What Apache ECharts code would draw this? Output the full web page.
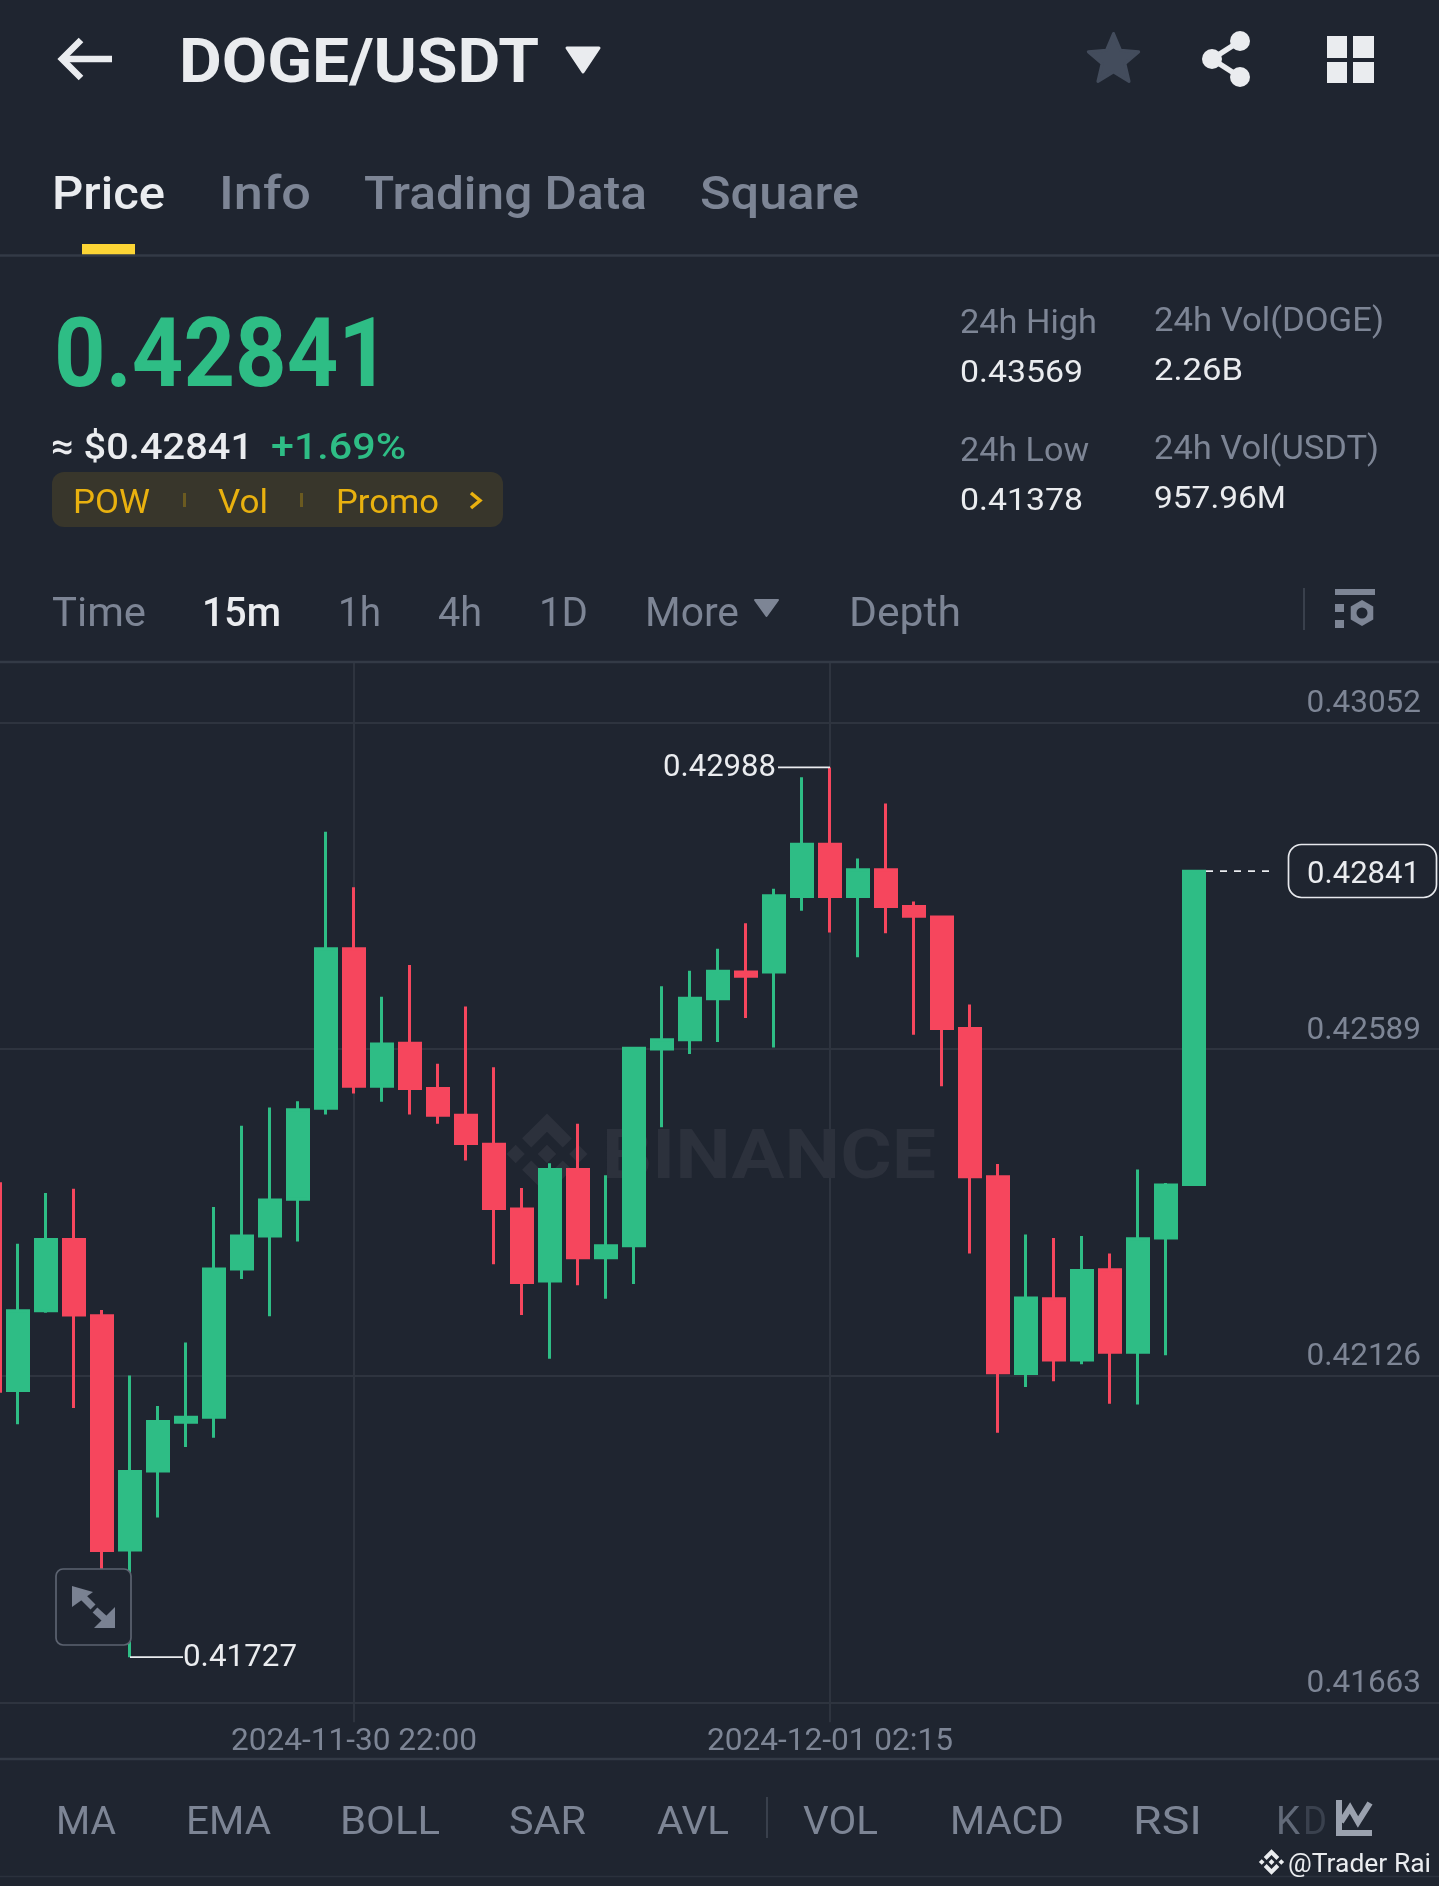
<!DOCTYPE html>
<html>
<head>
<meta charset="utf-8">
<title>DOGE/USDT</title>
<style>html,body{margin:0;padding:0;background:#1f2530}#c{width:1439px;height:1886px}</style>
<script src="https://cdn.jsdelivr.net/npm/echarts@6/dist/echarts.min.js"></script>
</head>
<body>
<div id="c"></div>
<script>
// ---- data ----
const categories = [
'2024-11-30 18:45','2024-11-30 19:00','2024-11-30 19:15','2024-11-30 19:30','2024-11-30 19:45',
'2024-11-30 20:00','2024-11-30 20:15','2024-11-30 20:30','2024-11-30 20:45',
'2024-11-30 21:00','2024-11-30 21:15','2024-11-30 21:30','2024-11-30 21:45',
'2024-11-30 22:00','2024-11-30 22:15','2024-11-30 22:30','2024-11-30 22:45',
'2024-11-30 23:00','2024-11-30 23:15','2024-11-30 23:30','2024-11-30 23:45',
'2024-12-01 00:00','2024-12-01 00:15','2024-12-01 00:30','2024-12-01 00:45',
'2024-12-01 01:00','2024-12-01 01:15','2024-12-01 01:30','2024-12-01 01:45',
'2024-12-01 02:00','2024-12-01 02:15','2024-12-01 02:30','2024-12-01 02:45',
'2024-12-01 03:00','2024-12-01 03:15','2024-12-01 03:30','2024-12-01 03:45',
'2024-12-01 04:00','2024-12-01 04:15','2024-12-01 04:30','2024-12-01 04:45',
'2024-12-01 05:00','2024-12-01 05:15','2024-12-01 05:30','2024-12-01 05:45',
'2024-12-01 06:00','2024-12-01 06:15','2024-12-01 06:30','2024-12-01 06:45',
'2024-12-01 07:00','2024-12-01 07:15','2024-12-01 07:30','2024-12-01 07:45'];
const opens = [0.42398,0.42105,0.42218,0.42319,0.42211,0.41879,0.41991,0.42060,0.42067,0.42277,0.42324,0.42376,0.42505,
0.42731,0.42536,0.42597,0.42533,0.42495,0.42454,0.42362,0.42260,0.42418,0.42293,0.42310,0.42589,0.42602,0.42660,
0.42698,0.42698,0.42805,0.42879,0.42805,0.42843,0.42791,0.42776,0.42618,0.42408,0.42129,0.42235,0.42148,0.42276,
0.42159,0.42321,0.42397];
const closes = [0.42104,0.42218,0.42319,0.42212,0.41878,0.41990,0.42061,0.42067,0.42277,0.42324,0.42375,0.42503,0.42731,
0.42536,0.42596,0.42533,0.42495,0.42455,0.42363,0.42258,0.42418,0.42293,0.42310,0.42590,0.42602,0.42661,0.42699,
0.42692,0.42806,0.42879,0.42805,0.42843,0.42791,0.42777,0.42618,0.42408,0.42130,0.42236,0.42148,0.42275,0.42159,
0.42320,0.42396,0.42841];
const lows = [0.42092,0.42057,0.42215,0.42080,0.41822,0.41727,0.41925,0.42025,0.42038,0.42263,0.42210,0.42316,0.42496,
0.42526,0.42514,0.42496,0.42483,0.42431,0.42284,0.42212,0.42150,0.42254,0.42235,0.42256,0.42478,0.42582,0.42599,
0.42633,0.42591,0.42785,0.42754,0.42719,0.42753,0.42609,0.42536,0.42299,0.42045,0.42110,0.42118,0.42142,0.42086,
0.42085,0.42155,0.42395];
const highs = [0.42418,0.42313,0.42385,0.42391,0.42219,0.42126,0.42083,0.42173,0.42365,0.42480,0.42506,0.42515,0.42897,
0.42818,0.42663,0.42708,0.42568,0.42649,0.42563,0.42392,0.42427,0.42483,0.42410,0.42591,0.42678,0.42700,0.42731,
0.42767,0.42816,0.42974,0.42988,0.42859,0.42937,0.42798,0.42776,0.42652,0.42426,0.42326,0.42321,0.42324,0.42299,
0.42418,0.42399,0.42843];
const yAxisMin = 0.41663, yAxisMax = 0.43137, yAxisStep = 0.00463;
const xTickLabels = ['2024-11-30 22:00','2024-12-01 02:15'];
const highMark = ['2024-12-01 02:15',0.42988];
const lowMark = ['2024-11-30 20:00',0.41727];
const lastMark = ['2024-12-01 05:30',0.42841];

// ---- palette ----
const BG='#1f2530', GRID='#2e343f', GREEN='#2ebd85', RED='#f6465d', WHITE='#eaecef', GREY='#7d8595', GOLD='#e9b10f';

const chart = echarts.init(document.getElementById('c'),null,{width:1439,height:1886});

const candles = categories.slice(0,opens.length).map((c,i)=>[opens[i],closes[i],lows[i],highs[i]]);
const isTick = (i)=>xTickLabels.includes(categories[i]);

chart.setOption({
  animation:false,
  backgroundColor:BG,
  textStyle:{fontFamily:'Roboto'},
  grid:{left:-10,top:662.3,width:1456,height:1040,containLabel:false,outerBoundsMode:'none'},
  xAxis:{type:'category',data:categories,boundaryGap:false,
    axisLine:{lineStyle:{color:GRID,width:2}},
    axisTick:{show:true,length:20,interval:isTick,lineStyle:{color:GRID,width:2}},
    axisLabel:{interval:isTick,margin:24,color:GREY,fontSize:31.6,fontFamily:'Roboto',hideOverlap:false},
    splitLine:{show:true,interval:isTick,lineStyle:{color:GRID,width:2}}},
  yAxis:{type:'value',position:'right',min:yAxisMin,max:yAxisMax,interval:yAxisStep,scale:true,
    axisLine:{show:false},axisTick:{show:false},
    axisLabel:{inside:true,margin:25,color:GREY,fontSize:31.5,fontFamily:'Roboto',showMaxLabel:false,hideOverlap:false,
      verticalAlign:'bottom',padding:[0,0,2,0],formatter:v=>v.toFixed(5)},
    splitLine:{show:true,showMaxLine:false,lineStyle:{color:GRID,width:2}}},
  series:[{type:'candlestick',data:candles,barWidth:22,
    itemStyle:{color:GREEN,color0:RED,borderColor:GREEN,borderColor0:RED,borderWidth:3}}]
});

// ---- page furniture ----
const measure = document.createElement('canvas').getContext('2d');
function T(str,x0,x1,yc,size,fill,weight,z){
  measure.font = (weight||400)+' '+size+'px Roboto';
  const w = measure.measureText(str).width;
  return {type:'text',x:x0,y:yc+0.11*size,scaleX:(x1-x0)/w,z:z||10,silent:true,
    style:{text:str,x:0,y:0,fill:fill,fontFamily:'Roboto',fontSize:size,fontWeight:weight||400,textAlign:'left',textVerticalAlign:'middle'}};
}
const R=(x,y,w,h,fill,r,extra)=>Object.assign({type:'rect',z:10,silent:true,shape:{x,y,width:w,height:h,r:r||0},style:{fill}},extra||{});
const L=(x1,y1,x2,y2,stroke,lw,extra)=>Object.assign({type:'line',z:10,silent:true,shape:{x1,y1,x2,y2},style:{stroke,lineWidth:lw}},extra||{});
const P=(pts,fill,extra)=>Object.assign({type:'polygon',z:10,silent:true,shape:{points:pts},style:{fill}},extra||{});
const PL=(pts,stroke,lw)=>({type:'polyline',z:10,silent:true,shape:{points:pts},style:{stroke,lineWidth:lw,fill:null,lineJoin:'miter'}});
const C=(cx,cy,r,fill)=>({type:'circle',z:10,silent:true,shape:{cx,cy,r},style:{fill}});

function logo(cx,cy,s,fill,z){
  const u=[[[38.73,53.2],[63.3,28.63],[87.88,53.21],[102.18,38.91],[63.3,0],[24.43,38.87]],
           [[0,63.3],[14.3,49],[28.6,63.3],[14.3,77.6]],
           [[48.79,63.3],[63.3,48.79],[77.81,63.3],[63.3,77.82]],
           [[98,63.3],[112.3,49],[126.6,63.3],[112.3,77.6]],
           [[38.73,73.4],[63.3,98],[87.88,73.41],[102.18,87.7],[63.3,126.61],[24.43,87.73]]];
  return u.map(p=>P(p.map(q=>[cx+(q[0]-63.3)*s,cy+(q[1]-63.3)*s]),fill,{z:z}));
}
const star=[];
for(let k=0;k<10;k++){const r=k%2?12:26.5,a=-Math.PI/2+k*Math.PI/5;star.push([1113.5+r*Math.cos(a),60+r*Math.sin(a)]);}
const hex=[];
for(let k=0;k<6;k++){const a=-Math.PI/2+k*Math.PI/3;hex.push([1362+13*Math.cos(a),613+13*Math.sin(a)]);}

const furniture=[
  // header
  L(62,59,112,59,WHITE,6.5), PL([[81,40],[62,59],[81,78]],WHITE,6.5),
  T('DOGE/USDT',179,539,60,62,WHITE,700),
  P([[567,48],[599,48],[583,72]],WHITE,{style:{fill:WHITE,stroke:WHITE,lineWidth:3,lineJoin:'round'}}),
  P(star,'#434c5c',{style:{fill:'#434c5c',stroke:'#434c5c',lineWidth:3,lineJoin:'round'}}),
  L(1240,41,1212,59,WHITE,5.5), L(1212,59,1240,77,WHITE,5.5),
  C(1240,41,10,WHITE), C(1212,59,10,WHITE), C(1240,77,10,WHITE),
  R(1327,36,20,22,WHITE), R(1353,36,21,22,WHITE), R(1327,62,20,21,WHITE), R(1353,62,21,21,WHITE),
  // tabs
  T('Price',52,165,192,46,WHITE,500),
  T('Info',219,311,192,46,GREY,500),
  T('Trading Data',364,647,192,46,GREY,500),
  T('Square',700,859,192,46,GREY,500),
  R(82,244,53,11,'#fcd535'),
  L(0,255.5,1439,255.5,'#333a46',2.5),
  // price block
  T('0.42841',54,390,351,97,GREEN,700),
  T('\u2248 $0.42841',51,253,446,37,WHITE,500),
  T('+1.69%',271,406,446,37,GREEN,500),
  R(52,472,451,55,'#38362b',12),
  T('POW',73,150,501,33,GOLD,400),
  R(183,493,3,14,'#6b5a20'),
  T('Vol',218,268,501,33,GOLD,400),
  R(300,493,3,14,'#6b5a20'),
  T('Promo',336,439,501,33,GOLD,400),
  PL([[471,493],[480,500.5],[471,508]],GOLD,3.5),
  T('24h High',960,1097,321,33,GREY),
  T('24h Vol(DOGE)',1154,1384,319,33,GREY),
  T('0.43569',960,1083,371,31,WHITE),
  T('2.26B',1154,1243,369,31,WHITE),
  T('24h Low',960,1089,449,33,GREY),
  T('24h Vol(USDT)',1154,1379,447,33,GREY),
  T('0.41378',960,1083,499,31,WHITE),
  T('957.96M',1154,1286,497,31,WHITE),
  // intervals
  T('Time',52,146,611,41,GREY),
  T('15m',202,281,611,41,WHITE,500),
  T('1h',338,381,611,41,GREY),
  T('4h',438,482,611,41,GREY),
  T('1D',539,588,611,41,GREY),
  T('More',645,739,611,41,GREY),
  P([[755,600],[778,600],[766.5,616]],GREY,{style:{fill:GREY,stroke:GREY,lineWidth:2,lineJoin:'round'}}),
  T('Depth',849,961,611,41,GREY),
  R(1303,588,2,42,'#39404c'),
  R(1335,589,40,6,GREY), R(1335,604,9,8,GREY), R(1335,620,9,8,GREY),
  P(hex,GREY), C(1362,613,5.5,BG),
  L(0,662,1439,662,'#333a46',2.5),
  // bottom tabs
  L(0,1759,1439,1759,'#333a46',2.5),
  T('MA',56,116,1820,39,GREY),
  T('EMA',186,271,1820,39,GREY),
  T('BOLL',340,440,1820,39,GREY),
  T('SAR',509,586,1820,39,GREY),
  T('AVL',657,729,1820,39,GREY),
  R(766,1797,2,41,'#39404c'),
  T('VOL',803,878,1820,39,GREY),
  T('MACD',950,1064,1820,39,GREY),
  T('RSI',1133,1202,1820,39,GREY),
  T('K',1276,1300,1820,39,'#626a79'),
  T('D',1303,1327,1820,39,'#3a414e'),
  PL([[1339,1800],[1339,1833],[1372,1833]],'#9aa1ae',6),
  PL([[1341,1822],[1350,1808],[1358,1822],[1370,1803]],'#9aa1ae',6),
  L(0,1876.5,1439,1876.5,'#2b313c',1.5),
  T('@Trader Rai',1288,1431,1863,26,WHITE),
  // expand button
  R(56,1569,75,76,BG,7,{style:{fill:BG,stroke:'#5c6370',lineWidth:1.7}}),
  P([[72,1586],[93,1592],[72,1607]],'#7a8292'), L(81,1595,93,1607,'#7a8292',7),
  P([[115,1628],[94,1628],[115,1607]],'#7a8292'), L(95,1610,106,1620,'#7a8292',7),
].concat(logo(1271.5,1862,0.2,WHITE,10), logo(547,1154,0.64,'#2c313c',1),
  [T('BINANCE',602,936,1154,68,'#2c313c',700,1)]);

// ---- annotations positioned through the chart's own scales ----
const hi=chart.convertToPixel({gridIndex:0},highMark);
const lo=chart.convertToPixel({gridIndex:0},lowMark);
const la=chart.convertToPixel({gridIndex:0},lastMark);
const notes=[
  L(hi[0]-52,hi[1],hi[0],hi[1],WHITE,1.7),
  T('0.42988',hi[0]-167,hi[0]-54,hi[1]-3,31,WHITE),
  L(lo[0],lo[1],lo[0]+53,lo[1],WHITE,1.7),
  T('0.41727',lo[0]+53,lo[0]+167,lo[1]-2,31,WHITE),
  {type:'line',z:10,silent:true,shape:{x1:la[0]+12,y1:la[1],x2:1270,y2:la[1]},style:{stroke:WHITE,lineWidth:1.7,lineDash:[7,7]}},
  R(1288.5,844.5,148,53,BG,13,{style:{fill:BG,stroke:'#e6e8ec',lineWidth:1.7}}),
  T('0.42841',1307,1420,la[1]+1,31,WHITE),
];
chart.setOption({graphic:{elements:furniture.concat(notes)}});
</script>
</body>
</html>
